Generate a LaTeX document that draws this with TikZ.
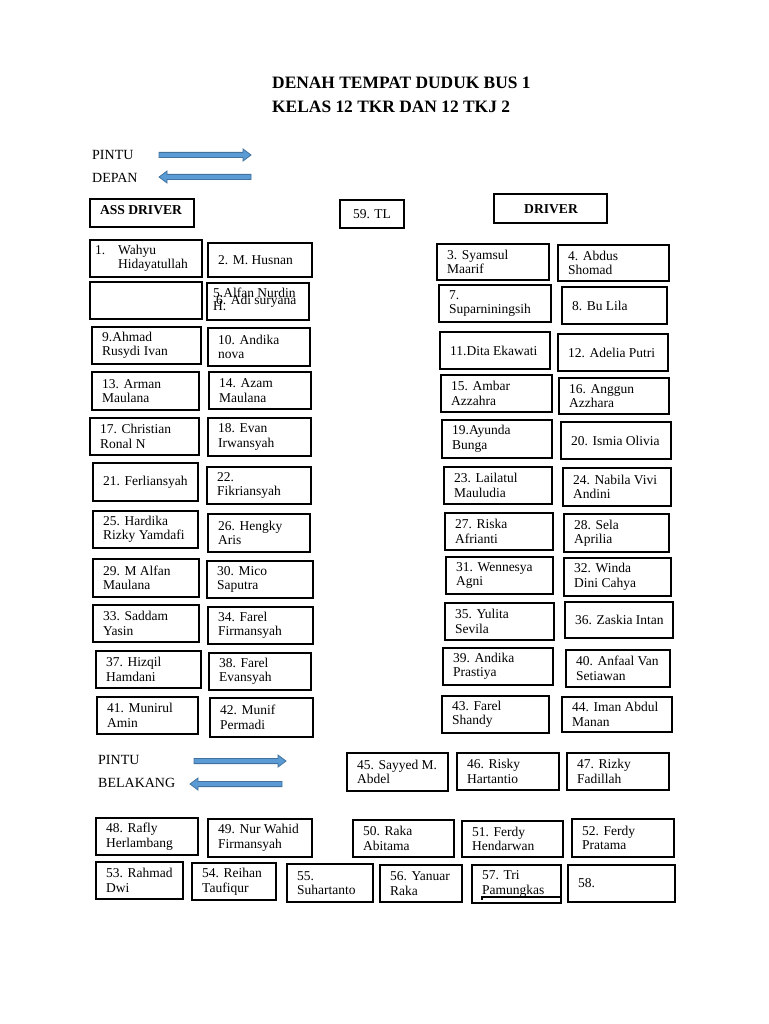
\documentclass[tikz,border=0pt]{standalone}
\usepackage{fontspec}
\setmainfont{Liberation Serif}
\definecolor{arrowfill}{HTML}{5B9BD5}
\definecolor{arrowdraw}{HTML}{41719C}
\newcommand\seatbox[7][10]{%
  \pgfmathsetmacro\sw{#5-#3}\pgfmathsetmacro\sh{#6-#4}%
  \node[seat, minimum width=\sw pt, minimum height=\sh pt, anchor=north west] (#2) at (#3,#4) {};
  \node[seattext, anchor=west] (#2t) at ([xshift=#1pt]#2.west) {#7};}
\newcommand\rightblock[3]{\draw[blockarrow] (#1,{#3-2.6}) -- ({#2-8},{#3-2.6}) -- ({#2-8},{#3-6}) -- (#2,#3) -- ({#2-8},{#3+6}) -- ({#2-8},{#3+2.6}) -- (#1,{#3+2.6}) -- cycle;}
\newcommand\leftblock[3]{\draw[blockarrow] (#2,{#3-2.6}) -- ({#1+8},{#3-2.6}) -- ({#1+8},{#3-6}) -- (#1,#3) -- ({#1+8},{#3+6}) -- ({#1+8},{#3+2.6}) -- (#2,{#3+2.6}) -- cycle;}
\begin{document}
\begin{tikzpicture}[x=1pt,y=-1pt,
  seat/.style={draw=black, line width=1.2pt, rectangle, inner sep=0pt, outer sep=0pt},
  seattext/.style={inner sep=0pt, align=left, font=\fontsize{13.5}{14.5}\selectfont},
  titletext/.style={inner sep=0pt, anchor=west, font=\fontsize{17.4}{20}\selectfont\bfseries},
  doortext/.style={inner sep=0pt, anchor=west, font=\fontsize{14}{16}\selectfont},
  boldlabel/.style={inner sep=0pt, font=\fontsize{13.6}{15}\selectfont\bfseries},
  blockarrow/.style={fill=arrowfill, draw=arrowdraw, line width=0.8pt}]
\useasboundingbox (0,0) rectangle (768,1024);

% titles
\node[titletext] (title1) at (272,83) {DENAH TEMPAT DUDUK BUS 1};
\node[titletext] (title2) at (272,107) {KELAS 12 TKR DAN 12 TKJ 2};

% front door
\node[doortext] (pintu1) at (92,155) {PINTU};
\node[doortext] (depan) at (92,178) {DEPAN};
\rightblock{159}{251}{155}
\leftblock{159}{251}{177}

% driver row
\node[seat, minimum width=104pt, minimum height=28pt, anchor=north west] (assdriver) at (90,199) {};
\node[boldlabel] (assdrivert) at (141,210) {ASS DRIVER};
\node[seat, minimum width=64pt, minimum height=28pt, anchor=north west] (tl) at (340,200) {};
\node[seattext] (tlt) at (372,214) {59. TL};
\node[seat, minimum width=113pt, minimum height=29pt, anchor=north west] (driver) at (494,194) {};
\node[boldlabel] (drivert) at (551,209) {DRIVER};

% left side
\seatbox[5]{s1}{90}{240}{202}{277}{\makebox[23pt][l]{1.}Wahyu\\\hspace*{23pt}Hidayatullah}
\seatbox{s2}{208}{243}{312}{277}{2. M. Husnan}
\node[seat, minimum width=112pt, minimum height=37pt, anchor=north west] (sempty) at (90,282) {};
\node[seat, minimum width=102pt, minimum height=37pt, anchor=north west] (s5) at (207,283) {};
\node[seattext, anchor=west, font=\fontsize{13.5}{13.5}\selectfont] (s5t) at (213,299.5) {5.Alfan Nurdin\\H.};
\node[seattext, anchor=west] (s6t) at (216,301.7) {6. Adi suryana};
\seatbox{s9}{92}{327}{201}{364}{9.Ahmad\\Rusydi Ivan}
\seatbox{s10}{208}{328}{310}{366}{10. Andika\\nova}
\seatbox{s13}{92}{372}{199}{410}{13. Arman\\Maulana}
\seatbox{s14}{209}{372}{311}{409}{14. Azam\\Maulana}
\seatbox{s17}{90}{418}{199}{455}{17. Christian\\Ronal N}
\seatbox{s18}{208}{418}{311}{456}{18. Evan\\Irwansyah}
\seatbox{s21}{93}{463}{198}{501}{21. Ferliansyah}
\seatbox{s22}{207}{467}{311}{504}{22.\\Fikriansyah}
\seatbox{s25}{93}{511}{198}{548}{25. Hardika\\Rizky Yamdafi}
\seatbox{s26}{208}{514}{310}{552}{26. Hengky\\Aris}
\seatbox{s29}{93}{559}{199}{597}{29. M Alfan\\Maulana}
\seatbox{s30}{207}{561}{313}{598}{30. Mico\\Saputra}
\seatbox{s33}{93}{605}{199}{642}{33. Saddam\\Yasin}
\seatbox{s34}{208}{607}{313}{644}{34. Farel\\Firmansyah}
\seatbox{s37}{96}{651}{201}{688}{37. Hizqil\\Hamdani}
\seatbox{s38}{209}{653}{311}{690}{38. Farel\\Evansyah}
\seatbox{s41}{97}{697}{198}{734}{41. Munirul\\Amin}
\seatbox{s42}{210}{698}{313}{737}{42. Munif\\Permadi}

% right side
\seatbox{s3}{437}{244}{549}{280}{3. Syamsul\\Maarif}
\seatbox{s4}{558}{245}{669}{281}{4. Abdus\\Shomad}
\seatbox{s7}{439}{285}{551}{322}{7.\\Suparniningsih}
\seatbox{s8}{562}{287}{667}{324}{8. Bu Lila}
\seatbox{s11}{440}{332}{550}{369}{11.Dita Ekawati}
\seatbox{s12}{558}{334}{668}{371}{12. Adelia Putri}
\seatbox{s15}{441}{375}{552}{412}{15. Ambar\\Azzahra}
\seatbox{s16}{559}{378}{669}{414}{16. Anggun\\Azzhara}
\seatbox{s19}{442}{420}{552}{458}{19.Ayunda\\Bunga}
\seatbox{s20}{561}{422}{671}{459}{20. Ismia Olivia}
\seatbox{s23}{444}{467}{552}{504}{23. Lailatul\\Mauludia}
\seatbox{s24}{563}{468}{671}{506}{24. Nabila Vivi\\Andini}
\seatbox{s27}{445}{513}{553}{550}{27. Riska\\Afrianti}
\seatbox{s28}{564}{514}{669}{552}{28. Sela\\Aprilia}
\seatbox{s31}{446}{557}{553}{594}{31. Wennesya\\Agni}
\seatbox{s32}{564}{558}{671}{596}{32. Winda\\Dini Cahya}
\seatbox{s35}{445}{603}{554}{640}{35. Yulita\\Sevila}
\seatbox{s36}{565}{602}{673}{638}{36. Zaskia Intan}
\seatbox{s39}{443}{648}{553}{685}{39. Andika\\Prastiya}
\seatbox{s40}{566}{650}{670}{687}{40. Anfaal Van\\Setiawan}
\seatbox{s43}{442}{696}{549}{733}{43. Farel\\Shandy}
\seatbox{s44}{562}{697}{672}{732}{44. Iman Abdul\\Manan}

% back door
\node[doortext] (pintu2) at (98,760) {PINTU};
\node[doortext] (belakang) at (98,783) {BELAKANG};
\rightblock{194}{286}{761}
\leftblock{190}{282}{784}

% back rows
\seatbox{s45}{347}{753}{448}{791}{45. Sayyed M.\\Abdel}
\seatbox{s46}{457}{753}{559}{790}{46. Risky\\Hartantio}
\seatbox{s47}{567}{753}{669}{790}{47. Rizky\\Fadillah}
\seatbox{s48}{96}{818}{198}{855}{48. Rafly\\Herlambang}
\seatbox{s49}{208}{819}{312}{857}{49. Nur Wahid\\Firmansyah}
\seatbox{s50}{353}{820}{454}{857}{50. Raka\\Abitama}
\seatbox{s51}{462}{821}{563}{857}{51. Ferdy\\Hendarwan}
\seatbox{s52}{572}{819}{674}{857}{52. Ferdy\\Pratama}
\seatbox{s53}{96}{862}{183}{899}{53. Rahmad\\Dwi}
\seatbox{s54}{192}{863}{276}{900}{54. Reihan\\Taufiqur}
\seatbox{s55}{287}{864}{373}{902}{55.\\Suhartanto}
\seatbox{s56}{380}{865}{462}{902}{56. Yanuar\\Raka}
\seatbox{s57}{472}{865}{561}{903}{57. Tri\\Pamungkas}
\seatbox{s58}{568}{865}{675}{902}{58.}
\draw[line width=1.2pt] (482,900) -- (482,897) -- (560,897);
\end{tikzpicture}
\end{document}
